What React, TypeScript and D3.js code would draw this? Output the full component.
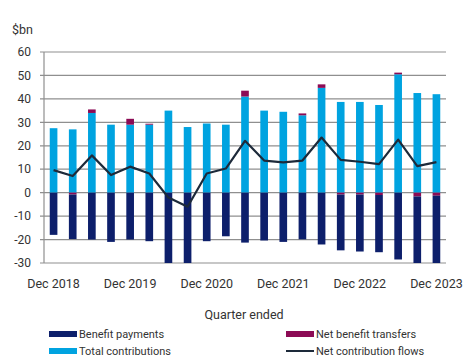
import * as d3 from "d3";
import { useEffect, useRef } from "react";

const quarters = [
  "Dec 2018", "Mar 2019", "Jun 2019", "Sep 2019", "Dec 2019", "Mar 2020", "Jun 2020",
  "Sep 2020", "Dec 2020", "Mar 2021", "Jun 2021", "Sep 2021", "Dec 2021", "Mar 2022",
  "Jun 2022", "Sep 2022", "Dec 2022", "Mar 2023", "Jun 2023", "Sep 2023", "Dec 2023",
];
const tickLabels = ["Dec 2018", "Dec 2019", "Dec 2020", "Dec 2021", "Dec 2022", "Dec 2023"];
const yTicks = [-30, -20, -10, 0, 10, 20, 30, 40, 50, 60];

const totalContributions = [27.5, 27, 34, 29, 29, 29, 35, 28, 29.5, 29, 41, 35, 34.5, 33, 44.7, 38.7, 38.7, 37.4, 50.5, 42.5, 42];
const netBenefitTransfers = [0, -0.8, 1.5, 0, 2.5, 0.4, 0, 0, 0, 0, 2.5, 0, 0, 0.8, 1.5, -0.8, -0.8, -1, 0.7, -1.6, -1.3];
const benefitPayments = [-18, -19, -20, -21, -20, -20.7, -37, -34, -20.7, -18.6, -21.3, -20.4, -21, -19.9, -22.1, -23.8, -24.3, -24.4, -28.5, -29.8, -30];
const netContributionFlows = [9.6, 7.1, 15.9, 7.5, 11.1, 8.2, -2.1, -6, 8.2, 10.3, 22.1, 13.7, 12.9, 13.7, 23.5, 14, 13.2, 12.2, 22.6, 11.3, 13];

const colors = {
  payments: "#0d1f6b",
  contributions: "#00a3e0",
  transfers: "#8c0b55",
  net: "#1d2a3a",
};

export default function App() {
  const ref = useRef<SVGSVGElement>(null);

  useEffect(() => {
    const svg = d3.select(ref.current);
    svg.selectAll("*").remove();

    const width = 474;
    const height = 359;
    const margin = { top: 52, right: 28, bottom: 96, left: 44 };
    const font = "Roboto, 'DejaVu Sans', sans-serif";
    const textColor = "#333";

    const x = d3.scaleBand()
      .domain(quarters)
      .range([margin.left, width - margin.right])
      .paddingInner(0.6)
      .paddingOuter(0.3);

    const y = d3.scaleLinear()
      .domain([-30, 60])
      .range([height - margin.bottom, margin.top]);

    svg.append("defs").append("clipPath").attr("id", "plot")
      .append("rect")
      .attr("x", margin.left).attr("y", y(60))
      .attr("width", width - margin.left - margin.right)
      .attr("height", y(-30) - y(60));

    // gridlines
    svg.append("g")
      .selectAll("line")
      .data(yTicks)
      .join("line")
      .attr("x1", margin.left - 4)
      .attr("x2", width - margin.right)
      .attr("y1", d => y(d))
      .attr("y2", d => y(d))
      .attr("stroke", "#8f8f8f")
      .attr("stroke-width", 1.2);

    svg.append("line")
      .attr("x1", margin.left).attr("x2", margin.left)
      .attr("y1", y(60)).attr("y2", y(-30))
      .attr("stroke", "#8f8f8f")
      .attr("stroke-width", 1.2);

    svg.append("g")
      .selectAll("text")
      .data(yTicks)
      .join("text")
      .attr("x", margin.left - 13)
      .attr("y", d => y(d))
      .attr("dy", "0.35em")
      .attr("text-anchor", "end")
      .attr("font-family", font)
      .attr("font-size", 12)
      .attr("fill", textColor)
      .text(d => d);

    svg.append("text")
      .attr("x", 12).attr("y", 34)
      .attr("font-family", font)
      .attr("font-size", 12.5)
      .attr("fill", textColor)
      .text("$bn");

    // stacked bars
    const rows = quarters.map((q, i) => {
      const c = totalContributions[i];
      const t = netBenefitTransfers[i];
      const p = benefitPayments[i];
      const segs = [
        { key: "contributions", y0: 0, y1: c },
        { key: "transfers", y0: t >= 0 ? c : 0, y1: t >= 0 ? c + t : t },
        { key: "payments", y0: Math.min(t, 0), y1: Math.min(t, 0) + p },
      ];
      return { q, segs };
    });

    svg.append("g")
      .attr("clip-path", "url(#plot)")
      .selectAll("g")
      .data(rows)
      .join("g")
      .attr("transform", d => `translate(${x(d.q)},0)`)
      .selectAll("rect")
      .data(d => d.segs.filter(s => s.y0 !== s.y1))
      .join("rect")
      .attr("x", 0)
      .attr("width", x.bandwidth())
      .attr("y", d => y(Math.max(d.y0, d.y1)))
      .attr("height", d => Math.abs(y(d.y0) - y(d.y1)))
      .attr("fill", d => colors[d.key as keyof typeof colors]);

    // net line
    const line = d3.line<number>()
      .x((d, i) => (x(quarters[i]) as number) + x.bandwidth() / 2)
      .y(d => y(d));

    svg.append("path")
      .datum(netContributionFlows)
      .attr("d", line)
      .attr("fill", "none")
      .attr("stroke", colors.net)
      .attr("stroke-width", 2.2)
      .attr("stroke-linejoin", "round");

    // x labels
    svg.append("g")
      .selectAll("text")
      .data(tickLabels)
      .join("text")
      .attr("x", d => (x(d) as number) + x.bandwidth() / 2)
      .attr("y", 288)
      .attr("text-anchor", "middle")
      .attr("font-family", font)
      .attr("font-size", 12.5)
      .attr("fill", textColor)
      .text(d => d);

    svg.append("text")
      .attr("x", 244).attr("y", 319)
      .attr("text-anchor", "middle")
      .attr("font-family", font)
      .attr("font-size", 12.5)
      .attr("fill", textColor)
      .text("Quarter ended");

    // legend
    const legend = [
      { label: "Benefit payments", color: colors.payments, type: "rect", x: 49, y: 334 },
      { label: "Total contributions", color: colors.contributions, type: "rect", x: 49, y: 351 },
      { label: "Net benefit transfers", color: colors.transfers, type: "rect", x: 286, y: 334 },
      { label: "Net contribution flows", color: colors.net, type: "line", x: 286, y: 351 },
    ];

    const lg = svg.append("g")
      .selectAll("g")
      .data(legend)
      .join("g")
      .attr("transform", d => `translate(${d.x},${d.y})`);

    lg.filter(d => d.type === "rect")
      .append("rect")
      .attr("x", 0).attr("y", -3)
      .attr("width", 28).attr("height", 6)
      .attr("fill", d => d.color);

    lg.filter(d => d.type === "line")
      .append("line")
      .attr("x1", 0).attr("x2", 28)
      .attr("y1", 0).attr("y2", 0)
      .attr("stroke", d => d.color)
      .attr("stroke-width", 2);

    lg.append("text")
      .attr("x", 30)
      .attr("dy", "0.35em")
      .attr("font-family", font)
      .attr("font-size", 11)
      .attr("fill", textColor)
      .text(d => d.label);
  }, []);

  return (
    <svg ref={ref} width={474} height={359}
      style={{ position: "absolute", left: 0, top: 0, background: "#fff" }} />
  );
}
